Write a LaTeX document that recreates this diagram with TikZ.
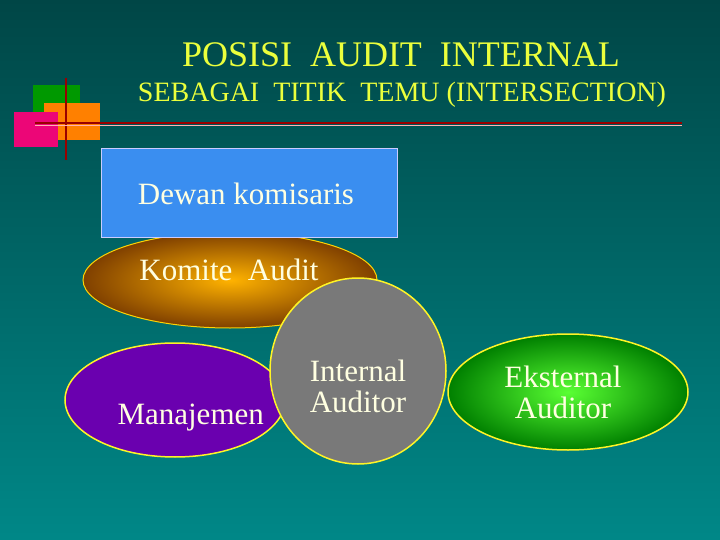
\documentclass[tikz,border=0pt]{standalone}
\usepackage{fontspec}
\setmainfont{Liberation Serif}
\definecolor{cream}{RGB}{255,255,225}
\definecolor{ttl}{RGB}{235,255,60}
\definecolor{rblue}{RGB}{58,142,240}
\begin{document}
\begin{tikzpicture}[x=1pt,y=-1pt,
 lab/.style={font=\fontsize{31}{31}\selectfont,align=center,text=cream},
 ybord/.style={draw=yellow!85!white,line width=1.5pt}]
\useasboundingbox (0,0) rectangle (720,540);
\shade[top color=teal!55!black,bottom color=teal!75!cyan!85!black] (0,0) rectangle (720,540);
% decoration
\fill[green!60!black] (33,85) rectangle (80,118);
\fill[orange] (44,103) rectangle (100,140);
\fill[magenta!80!red] (14,112) rectangle (58,147);
\draw[red!60!black,line width=1.5pt] (66,78) -- (66,160);
\draw[red!60!black,line width=1.5pt] (35,123) -- (682,123);
\draw[white!70!red,line width=0.5pt] (35,125) -- (682,125);
\node[font=\fontsize{36}{36}\selectfont,text=ttl] (t1) at (401,55) {POSISI\ \ AUDIT\ \ INTERNAL};
\node[font=\fontsize{28}{28}\selectfont,text=ttl] (t2) at (402,95) {SEBAGAI\ \ TITIK\ \ TEMU (INTERSECTION)};
% ellipses
\shade[inner color=orange!60!yellow,outer color=orange!50!black,draw=yellow!70!orange,line width=1pt] (230,280) ellipse (147 and 48);
\node[lab] (ka) at (229,270) {Komite\ \ Audit};
\fill[rblue] (101,148) rectangle (397,237);
\draw[white!80!blue] (101,148) rectangle (397,237);
\node[lab] (dk) at (246,194) {Dewan komisaris};
\fill[violet!70!blue!90!magenta,ybord] (175,400) ellipse (110 and 57);
\node[lab,anchor=west] (mj) at (114,418) {Manajemen};
\shade[inner color=green!75!white!80!lime,outer color=green!50!black,ybord] (568,392) ellipse (120 and 58);
\node[lab] (ea) at (563,392) {Eksternal\\Auditor};
\fill[gray!95!black,ybord] (358,371) ellipse (88 and 93);
\node[lab] (ia) at (358,386) {Internal\\Auditor};
\end{tikzpicture}
\end{document}
